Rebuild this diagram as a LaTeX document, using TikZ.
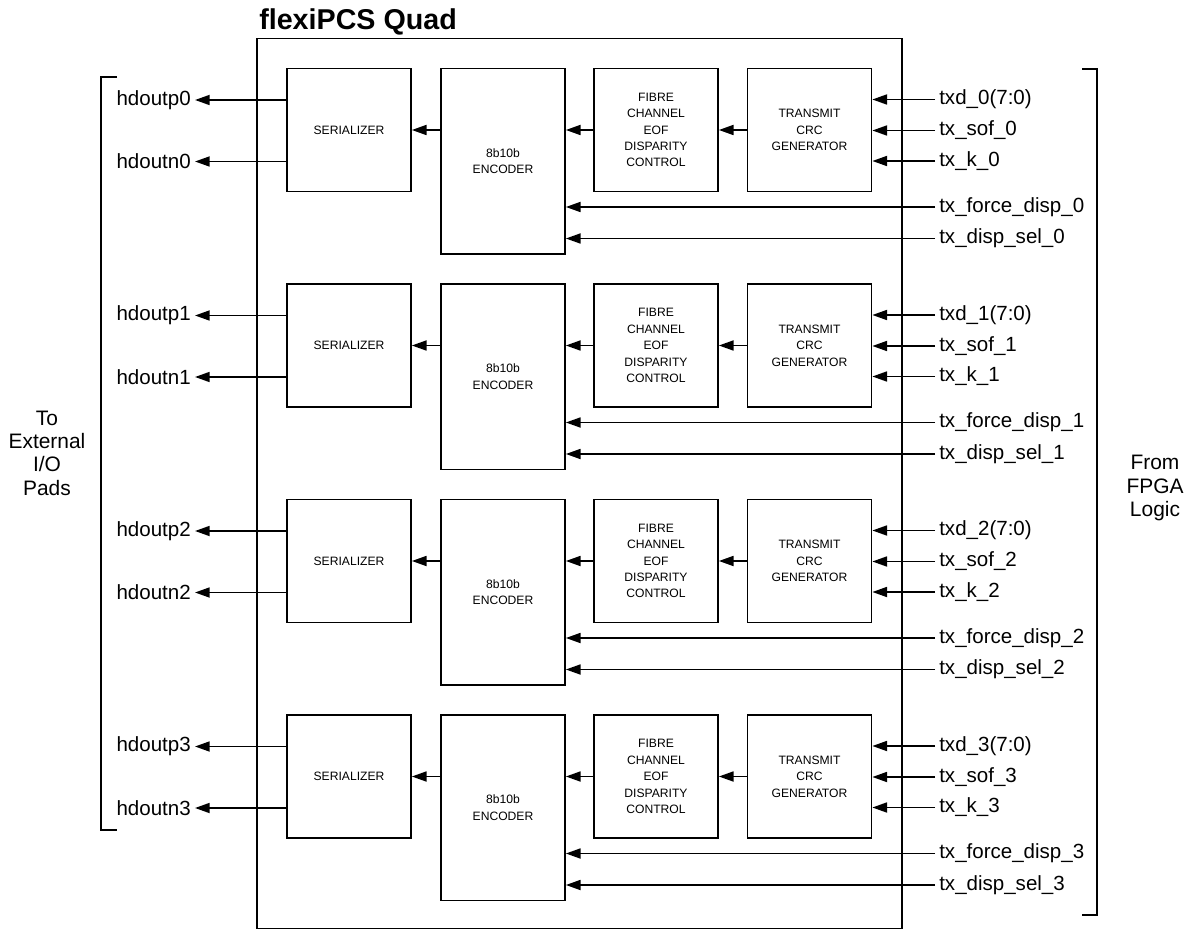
\documentclass[tikz,border=0pt]{standalone}
\usepackage{fontspec}
\setmainfont{Liberation Sans}
\usetikzlibrary{arrows.meta}

\begin{document}
\begin{tikzpicture}[x=0.75pt, y=-0.75pt,
	block/.style={draw, line width=1.3pt, minimum width=93pt, minimum height=92.25pt, inner sep=0pt, align=center, font=\fontsize{9.1}{12.3}\selectfont},
	encblock/.style={block, minimum height=139.1pt},
	pfeil/.style={line width=1.3pt, -{Triangle[length=11pt, width=7.5pt]}},
	signal/.style={inner sep=3pt, font=\fontsize{15.4}{18}\selectfont}]
%\draw [lightgray](0,0) grid (1188,930);
\useasboundingbox (0,0) rectangle (1188,930);

	% Zeichnet den Rahmen des Quads mit Titel
	\draw[line width=0.9pt] (257,38.5) rectangle (902,928.5);
	\node[anchor=base west, inner sep=0pt, font=\fontsize{21.5}{25}\selectfont\bfseries] (titel) at (259,30) {flexiPCS Quad};

	% Zeichnet die Klammern links und rechts mit Beschriftung
	\draw[line width=1.3pt] (117,77) -- (101,77) -- (101,830) -- (117,830);
	\draw[line width=1.3pt] (1082,69) -- (1097,69) -- (1097,915) -- (1082,915);
	\node[align=center, font=\fontsize{15.7}{17.5}\selectfont] (pads) at (47,453) {To\\External\\I/O\\Pads};
	\node[align=center, font=\fontsize{15.7}{17.5}\selectfont] (fpga) at (1155,488) {From\\FPGA\\Logic};

	% Zeichnet die vier Kanaele 0 bis 3
	\foreach \i in {0,...,3}{
		\pgfmathsetmacro{\T}{68.5+215.5*\i}

		% Bloecke des Kanals
		\node[block] (ser\i) at (349,\T+61.5) {SERIALIZER};
		\node[encblock] (enc\i) at (503,\T+92.75) {8b10b\\ENCODER};
		\node[block] (eof\i) at (656,\T+61.5) {FIBRE\\CHANNEL\\EOF\\DISPARITY\\CONTROL};
		\node[block] (crc\i) at (809.5,\T+61.5) {TRANSMIT\\CRC\\GENERATOR};

		% Signale links (Ausgaenge) und rechts (Eingaenge)
		\node[signal, anchor=east] (hp\i) at (195,\T+31.5) {hdoutp\i};
		\node[signal, anchor=east] (hn\i) at (195,\T+93) {hdoutn\i};
		\node[signal, anchor=west] (txd\i) at (935,\T+31) {txd\_\i(7:0)};
		\node[signal, anchor=west] (sof\i) at (935,\T+62) {tx\_sof\_\i};
		\node[signal, anchor=west] (k\i) at (935,\T+92.5) {tx\_k\_\i};
		\node[signal, anchor=west] (force\i) at (935,\T+138.5) {tx\_force\_disp\_\i};
		\node[signal, anchor=west] (sel\i) at (935,\T+170) {tx\_disp\_sel\_\i};

		% Pfeile zwischen den Bloecken
		\draw[pfeil] (crc\i.west) -- (eof\i.east);
		\draw[pfeil] (eof\i.west) -- (enc\i.east |- eof\i.west);
		\draw[pfeil] (enc\i.west |- ser\i.east) -- (ser\i.east);

		% Pfeile zu den Ausgaengen
		\draw[pfeil] (ser\i.west |- hp\i.east) -- (hp\i.east);
		\draw[pfeil] (ser\i.west |- hn\i.east) -- (hn\i.east);

		% Pfeile von den Eingaengen
		\draw[pfeil] (txd\i.west) -- (crc\i.east |- txd\i.west);
		\draw[pfeil] (sof\i.west) -- (crc\i.east |- sof\i.west);
		\draw[pfeil] (k\i.west) -- (crc\i.east |- k\i.west);
		\draw[pfeil] (force\i.west) -- (enc\i.east |- force\i.west);
		\draw[pfeil] (sel\i.west) -- (enc\i.east |- sel\i.west);
	}

\end{tikzpicture}
\end{document}
